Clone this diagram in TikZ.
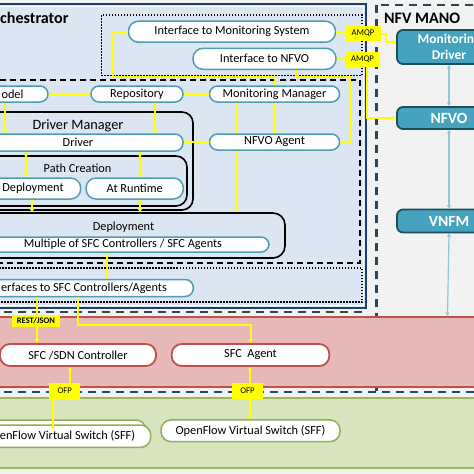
\documentclass[tikz,border=0pt]{standalone}
\usepackage{fontspec}
\setmainfont{Carlito}
\usetikzlibrary{positioning,arrows.meta,shadows}

\definecolor{bgc}{HTML}{F2F2F2}
\definecolor{orchfill}{HTML}{DCE6F2}
\definecolor{orchline}{HTML}{1F3F6E}
\definecolor{pillline}{HTML}{4F9DB5}
\definecolor{manofill}{HTML}{46A3BE}
\definecolor{manoedge}{HTML}{1D4E5E}
\definecolor{manoarrow}{HTML}{93C6D6}
\definecolor{dashc}{HTML}{27475A}
\definecolor{ctlfill}{HTML}{E6B9B8}
\definecolor{ctlline}{HTML}{C0504D}
\definecolor{dpfill}{HTML}{D7E4BD}
\definecolor{dpline}{HTML}{9BBB59}
\definecolor{swline}{HTML}{8FAE5C}
\definecolor{lnk}{HTML}{FFFF00}

\begin{document}
\begin{tikzpicture}[x=1pt,y=-1pt]
  \tikzstyle{pill} = [draw=pillline,fill=white,line width=1.5pt,rounded corners=8pt,inner sep=0pt,font=\fontsize{12.3}{14}\selectfont]
  \tikzstyle{grp} = [draw=black,line width=1.6pt,rounded corners=11pt,inner sep=0pt]
  \tikzstyle{mano} = [draw=manoedge,fill=manofill,line width=1.8pt,rounded corners=6pt,text=white,inner sep=0pt,minimum width=104pt]
  \tikzstyle{tag} = [fill=lnk,inner sep=0pt,font=\fontsize{8.7}{10}\selectfont]
  \tikzstyle{link} = [draw=lnk,line width=2pt,>={Triangle[length=3.5pt,width=4.5pt]}]
  \tikzstyle{manolink} = [draw=manoarrow,line width=1.2pt,>={Triangle[length=3.5pt,width=4pt]}]
  \tikzstyle{sepline} = [draw=dashc,line width=2.5pt,dash pattern=on 8pt off 6pt]
  \tikzstyle{dots} = [line width=1.5pt,dash pattern=on 1.5pt off 1.5pt]

  \useasboundingbox (0,0) rectangle (474,474);
  \clip (0,0) rectangle (474,474);
  \fill[bgc] (0,0) rectangle (474,474);

  % layers
  \draw[sepline,fill=bgc] (376.7,5) rectangle (500,392);
  \draw[sepline] (-10,312) -- (367,312);
  \draw[sepline] (-10,392) -- (376.7,392);
  \draw[orchline,fill=orchfill,line width=2.5pt] (-10,4) rectangle (366,308);
  \draw[white,line width=0.8pt] (-10,6.8) rectangle (363.2,305.2);
  \draw[dots] (101.7,15) rectangle (362,75.5);
  \draw[line width=1.8pt,dash pattern=on 6pt off 4pt] (-10,80) rectangle (360,263);
  \draw[dots] (-10,268) rectangle (362,302);
  \draw[ctlline,fill=ctlfill,line width=2pt] (-10,317) rectangle (490,387);
  \draw[dpline,fill=dpfill,line width=2pt] (-10,398) rectangle (490,468);

  \node[anchor=west,inner sep=0pt,font=\fontsize{16.1}{18}\bfseries] (orch) at (0,18) {chestrator};
  \node[anchor=west,inner sep=0pt,font=\fontsize{16}{18}\bfseries] (manot) at (384,18) {NFV MANO};

  % orchestrator
  \node[pill,minimum width=207pt,minimum height=21pt,rounded corners=10pt] (imon) at (232,31.7) {Interface to Monitoring System};
  \node[pill,minimum width=143pt,minimum height=21pt,rounded corners=10pt] (infvo) at (264.5,58.8) {Interface to NFVO};
  \node[pill,minimum width=71pt,minimum height=16pt] (model) at (12.5,94) {odel};
  \node[pill,minimum width=92pt,minimum height=16pt] (repo) at (137,94) {Repository};
  \node[pill,minimum width=130pt,minimum height=16pt] (mm) at (274.5,94) {Monitoring Manager};
  \node[grp,minimum width=213pt,minimum height=98pt] (dmgr) at (86.5,161) {};
  \node[grp,minimum width=207pt,minimum height=50pt] (pcre) at (83.5,181) {};
  \node[grp,minimum width=305pt,minimum height=45pt,rounded corners=12pt] (deploy) at (132.5,235.5) {};
  \node[font=\fontsize{14.3}{16}\selectfont] (dmgrt) at (78,126) {Driver Manager};
  \node[font=\fontsize{12.3}{14}\selectfont] (pcret) at (77.5,168) {Path Creation};
  \node[font=\fontsize{12.3}{14}\selectfont] (deployt) at (123.5,227) {Deployment};
  \node[pill,minimum width=210pt,minimum height=17pt] (driver) at (78,142.5) {Driver};
  \node[pill,minimum width=130pt,minimum height=16pt] (agent) at (274.5,142) {NFVO Agent};
  \node[pill,minimum width=95.4pt,minimum height=21pt,rounded corners=10pt] (pdep) at (33,188.5) {Deployment};
  \node[pill,minimum width=97.3pt,minimum height=21pt,rounded corners=10pt] (prun) at (134.7,188.5) {At Runtime};
  \node[pill,minimum width=292pt,minimum height=15pt] (multi) at (123,244.5) {Multiple of SFC Controllers / SFC Agents};
  \node[pill,minimum width=218.6pt,minimum height=17pt] (ifsfc) at (84,288) {erfaces to SFC Controllers/Agents};

  % control and data plane
  \node[pill,draw=ctlline,line width=1.8pt,minimum width=156pt,minimum height=22pt,rounded corners=10pt] (sdn) at (78,355) {SFC /SDN Controller};
  \node[pill,draw=ctlline,line width=1.8pt,minimum width=157.6pt,minimum height=22pt,rounded corners=10pt] (sfca) at (250.5,355) {SFC\ \ Agent};
  \node[pill,draw=swline,minimum width=166.4pt,minimum height=22.3pt,rounded corners=10pt,
        copy shadow={shadow xshift=-4.7pt,shadow yshift=5pt}] (sw1) at (67.5,436.2) {enFlow Virtual Switch (SFF)};
  \node[pill,draw=swline,minimum width=179pt,minimum height=21.7pt,rounded corners=10pt] (sw2) at (250.5,430.8) {OpenFlow Virtual Switch (SFF)};

  % NFV MANO
  \node[mano,minimum height=34pt,align=center,font=\fontsize{13.4}{16.5}\bfseries] (mdrv) at (449,47) {Monitoring\\Driver};
  \node[mano,minimum height=22pt,font=\fontsize{15.6}{18}\bfseries] (nfvo) at (449,118) {NFVO};
  \node[mano,minimum height=23pt,font=\fontsize{15.6}{18}\bfseries] (vnfm) at (449,221) {VNFM};
  \coordinate (ctltop) at (447.5,316);

  \node[tag,minimum width=36pt,minimum height=15pt] (amqp1) at (363,33.5) {AMQP};
  \node[tag,minimum width=35pt,minimum height=15pt] (amqp2) at (362.5,59.5) {AMQP};

  % yellow links
  \draw[link,->] (imon.west) -| (113,77) -| (mm.north);
  \draw[link,->] (infvo.south -| 297,0) |- (350,77) |- (agent.east);
  \draw[link] (imon.east) -- (amqp1.west);
  \draw[link] (infvo.east) -- (amqp2.west);
  \draw[link,->] (amqp1.east) -- ++(5,0) |- ([yshift=5pt]mdrv.west);
  \draw[link,->] ([xshift=4pt]amqp2.south) |- (nfvo.west);
  \draw[link,<->] (model.east) -- (repo.west);
  \draw[link,->] (mm.west) -- (repo.east);
  \draw[link,->] (agent.west) -- (agent.west -| driver.east);
  \draw[link,<->] (model.south -| 5,0) -- (driver.north -| 5,0);
  \draw[link,<->] (repo.south -| 155,0) -- (driver.north -| 155,0);
  \draw[link,<->] (driver.south -| 26,0) -- (pdep.north -| 26,0);
  \draw[link,<->] (driver.south -| 140,0) -- (prun.north -| 140,0);
  \draw[link,<->] (pdep.south -| 32,0) -- (deploy.north -| 32,0);
  \draw[link,<->] (prun.south -| 140,0) -- (deploy.north -| 140,0);
  \draw[link,<->] (mm.south) -- (agent.north);
  \draw[link] (mm.south -| 237,0) -- (agent.north -| 237,0);
  \draw[link,->] (agent.south -| 237,0) -- (deploy.north -| 237,0);
  \draw[link,<->] (multi.south -| 107,0) -- (ifsfc.north -| 107,0);
  \draw[link,->] (ifsfc.south -| 37,0) -- (sdn.north -| 37,0);
  \draw[link,->] (ifsfc.south -| 78,0) -- (78,325) -| (sfca.north);
  \draw[link,<->,shorten >=-5pt] (sdn.south -| 70,0) -- (70,391) -- (53,391) -- (sw1.north -| 53,0);
  \draw[link,<->] (sfca.south -| 250,0) -- (sw2.north -| 250,0);

  \node[tag,font=\fontsize{8.5}{10}\bfseries,minimum width=48pt,minimum height=12pt] (rest) at (36,321) {REST/JSON};
  \node[tag,minimum width=31pt,minimum height=17pt] (ofp1) at (64.7,391) {OFP};
  \node[tag,minimum width=31pt,minimum height=16pt] (ofp2) at (247.5,391) {OFP};

  % MANO links
  \draw[manolink,<->] (mdrv.south) -- (nfvo.north);
  \draw[manolink,<->] (nfvo.south) -- (vnfm.north);
  \draw[manolink,<->] (vnfm.south) -- (ctltop);
\end{tikzpicture}
\end{document}
